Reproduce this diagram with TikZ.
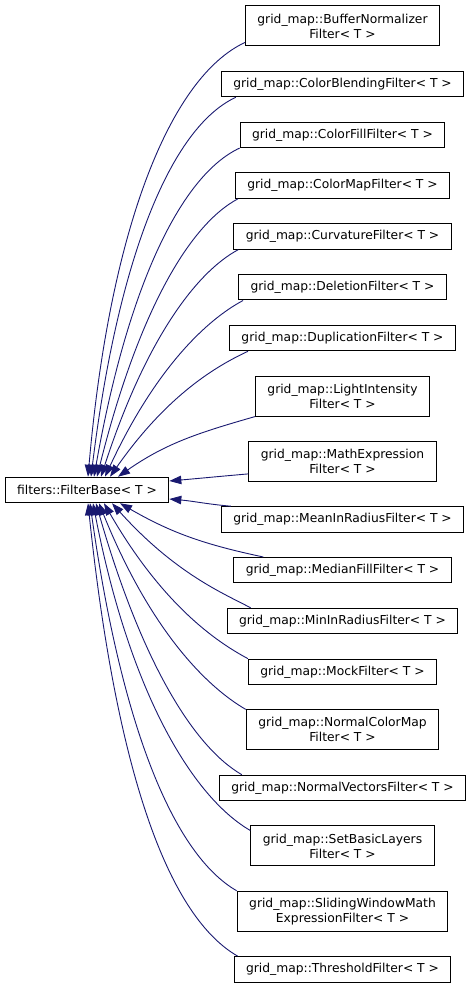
\documentclass[tikz,border=0pt]{standalone}
\usepackage{fontspec}
\setmainfont{DejaVu Sans}
\usepackage{xcolor}
\usepackage{tikz}
\usetikzlibrary{positioning,arrows.meta}
\definecolor{edge}{HTML}{191970}
\tikzset{
  cls/.style={rectangle,draw=black,fill=white,line width=1pt,align=center,
    inner xsep=12pt,inner ysep=2pt,minimum height=25.5pt,
    font=\fontsize{12.3}{15}\selectfont},
  cls2/.style={cls,minimum height=40pt},
  inh/.style={{Triangle[length=12pt,width=8.5pt]}-,draw=edge,line width=0.9pt},
  far/.style={out looseness=1.4,in looseness=0.45},
}

\begin{document}
\begin{tikzpicture}[x=1pt,y=1pt,node distance=24.3pt]
  \useasboundingbox (0,0) rectangle (474,988);
  \node[cls] (base) at (87,498) {filters::FilterBase< T >};
  \node[cls2] (buf) at (342.5,962) {grid\_map::BufferNormalizer\\Filter< T >};
  \node[cls,below=of buf] (cblend) {grid\_map::ColorBlendingFilter< T >};
  \node[cls,below=of cblend] (cfill) {grid\_map::ColorFillFilter< T >};
  \node[cls,below=of cfill] (cmap) {grid\_map::ColorMapFilter< T >};
  \node[cls,below=of cmap] (curv) {grid\_map::CurvatureFilter< T >};
  \node[cls,below=of curv] (del) {grid\_map::DeletionFilter< T >};
  \node[cls,below=of del] (dup) {grid\_map::DuplicationFilter< T >};
  \node[cls2,below=of dup] (light) {grid\_map::LightIntensity\\Filter< T >};
  \node[cls2,below=of light] (mathx) {grid\_map::MathExpression\\Filter< T >};
  \node[cls,below=of mathx] (mean) {grid\_map::MeanInRadiusFilter< T >};
  \node[cls,below=of mean] (median) {grid\_map::MedianFillFilter< T >};
  \node[cls,below=of median] (minr) {grid\_map::MinInRadiusFilter< T >};
  \node[cls,below=of minr] (mock) {grid\_map::MockFilter< T >};
  \node[cls2,below=of mock] (ncmap) {grid\_map::NormalColorMap\\Filter< T >};
  \node[cls,below=of ncmap] (nvec) {grid\_map::NormalVectorsFilter< T >};
  \node[cls2,below=of nvec] (basic) {grid\_map::SetBasicLayers\\Filter< T >};
  \node[cls2,below=of basic] (slide) {grid\_map::SlidingWindowMath\\ExpressionFilter< T >};
  \node[cls,below=of slide] (thresh) {grid\_map::ThresholdFilter< T >};

  \draw[inh] ([xshift=1pt]base.north) to[far,out=85,in=205] ([yshift=4pt]buf.south west);
  \draw[inh] ([xshift=4pt]base.north) to[far,out=83,in=205] ([xshift=15pt]cblend.south west);
  \draw[inh] ([xshift=7pt]base.north) to[far,out=80,in=205] (cfill.south west);
  \draw[inh] ([xshift=10pt]base.north) to[far,out=76,in=208] ([xshift=3pt]cmap.south west);
  \draw[inh] ([xshift=14pt]base.north) to[far,out=72,in=208] ([xshift=5pt]curv.south west);
  \draw[inh] ([xshift=18pt]base.north) to[far,out=65,in=208] ([xshift=5pt]del.south west);
  \draw[inh] ([xshift=23pt]base.north) to[far,out=55,in=205] ([xshift=19pt]dup.south west);
  \draw[inh] ([xshift=31pt]base.north) to[out=35,in=196] (light.south west);
  \draw[inh] ([yshift=9pt]base.east) to[out=5,in=185] ([yshift=8pt]mathx.south west);
  \draw[inh] ([yshift=-9pt]base.east) to[out=-5,in=175] ([xshift=10pt]mean.north west);
  \draw[inh] ([xshift=33pt]base.south) to[out=-30,in=168] ([xshift=30pt]median.north west);
  \draw[inh] ([xshift=25pt]base.south) to[far,out=-48,in=152] ([xshift=24pt]minr.north west);
  \draw[inh] ([xshift=17pt]base.south) to[far,out=-60,in=152] (mock.north west);
  \draw[inh] ([xshift=12pt]base.south) to[far,out=-68,in=150] (ncmap.north west);
  \draw[inh] ([xshift=9pt]base.south) to[far,out=-74,in=150] ([xshift=23pt]nvec.north west);
  \draw[inh] ([xshift=6pt]base.south) to[far,out=-79,in=150] ([yshift=-5pt]basic.north west);
  \draw[inh] ([xshift=3pt]base.south) to[far,out=-82,in=150] (slide.north west);
  \draw[inh] ([xshift=1pt]base.south) to[far,out=-84,in=150] ([xshift=4pt]thresh.north west);
\end{tikzpicture}
\end{document}
